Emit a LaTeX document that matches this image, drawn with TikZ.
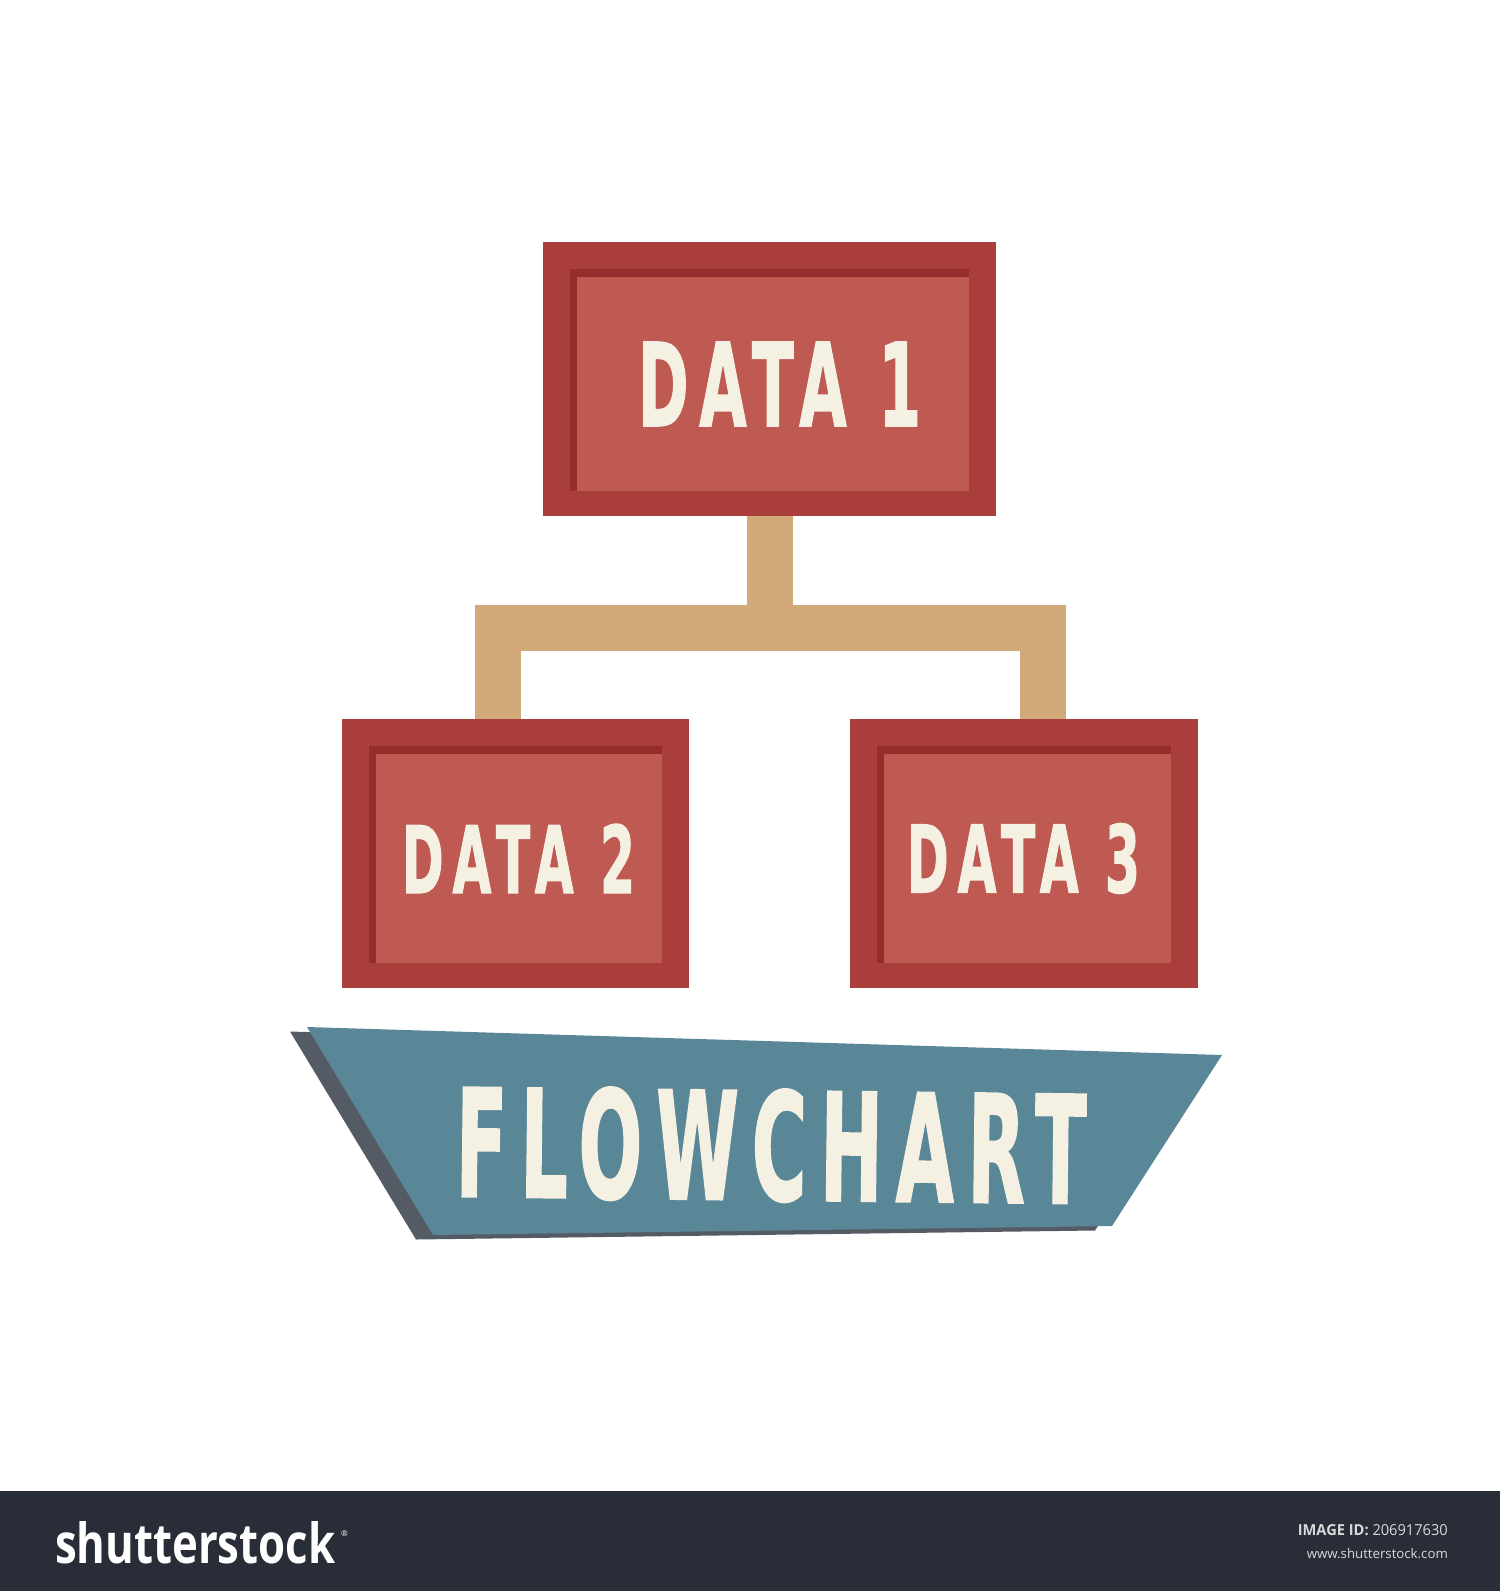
\documentclass[tikz,border=0pt]{standalone}
\usepackage{fontspec}
\setmainfont{DejaVu Sans}
\newfontfamily\dinfont{DejaVu Sans Condensed}[LetterSpace=16, BoldFeatures={FakeBold=1.5}]
\newfontfamily\logofont{Open Sans}
\definecolor{boxred}{HTML}{A93E3A}
\definecolor{framered}{HTML}{952D2C}
\definecolor{innerred}{HTML}{BF5A52}
\definecolor{conntan}{HTML}{D2AA79}
\definecolor{cream}{HTML}{F4F0E2}
\definecolor{bannerblue}{HTML}{598798}
\definecolor{shadowgray}{HTML}{555B64}
\definecolor{footbg}{HTML}{282D38}
\definecolor{footgray}{HTML}{D9D9D9}
\begin{document}
\begin{tikzpicture}[x=1pt,y=-1pt,
  databox/.style={rectangle, fill=boxred, draw=none, inner sep=0pt},
  conn/.style={draw=conntan, line width=46pt, line cap=butt, line join=miter},
  txtlabel/.style={text=cream, inner sep=0pt, font=\dinfont\bfseries},
  foottext/.style={inner sep=0pt, text=footgray}]
\useasboundingbox (0,0) rectangle (1500,1591);
\fill[white] (0,0) rectangle (1500,1591);

% boxes
\node[databox, minimum width=453pt, minimum height=274pt] (d1) at (769.5,379) {};
\node[databox, minimum width=347pt, minimum height=269pt] (d2) at (515.5,853.5) {};
\node[databox, minimum width=348pt, minimum height=269pt] (d3) at (1024,853.5) {};

\foreach \b in {d1,d2,d3}{
  \fill[framered] ([xshift=27pt,yshift=-27pt]\b.north west) rectangle ([xshift=-27pt,yshift=25pt]\b.south east);
  \fill[innerred] ([xshift=34pt,yshift=-35pt]\b.north west) rectangle ([xshift=-27pt,yshift=25pt]\b.south east);
}

\node[txtlabel] (t1) at (779.5,384) {\resizebox{283pt}{84pt}{DATA 1}};
\node[txtlabel] (t2) at (518.5,858.5) {\resizebox{233pt}{69pt}{DATA 2}};
\node[txtlabel] (t3) at (1023.5,858.5) {\resizebox{233pt}{69pt}{DATA 3}};

% connectors
\coordinate (j) at (769.5,627.5);
\draw[conn] (d1.south) -- (j);
\draw[conn] ([xshift=-18pt]d2.north) |- (j) -| ([xshift=18.5pt]d3.north);

% banner
\fill[shadowgray] (290,1031.5) -- (1205,1059.5) -- (1095,1230.5) -- (416,1239.5) -- cycle;
\fill[bannerblue] (307,1027) -- (1222,1055) -- (1112,1226) -- (433,1235) -- cycle;
\node[txtlabel, rotate=-0.65] (fc) at (771,1145.5) {\resizebox{630pt}{111pt}{FLOWCHART}};

% footer
\fill[footbg] (0,1491) rectangle (1500,1591);
\node[anchor=base west, inner sep=0pt, text=white, font=\logofont\bfseries] (logo) at (55,1563) {\resizebox{280pt}{42pt}{shutterstock}};
\node[anchor=north west, inner sep=0pt, text=white, font=\logofont] (reg) at (341,1530) {\fontsize{8}{8}\selectfont ®};
\node[foottext, anchor=base east] (imgid) at (1448,1535) {\resizebox{150pt}{11pt}{\logofont{\bfseries IMAGE ID:} 206917630}};
\node[foottext, anchor=base east] (url) at (1448,1558) {\resizebox{141pt}{10pt}{\logofont www.shutterstock.com}};
\end{tikzpicture}
\end{document}
